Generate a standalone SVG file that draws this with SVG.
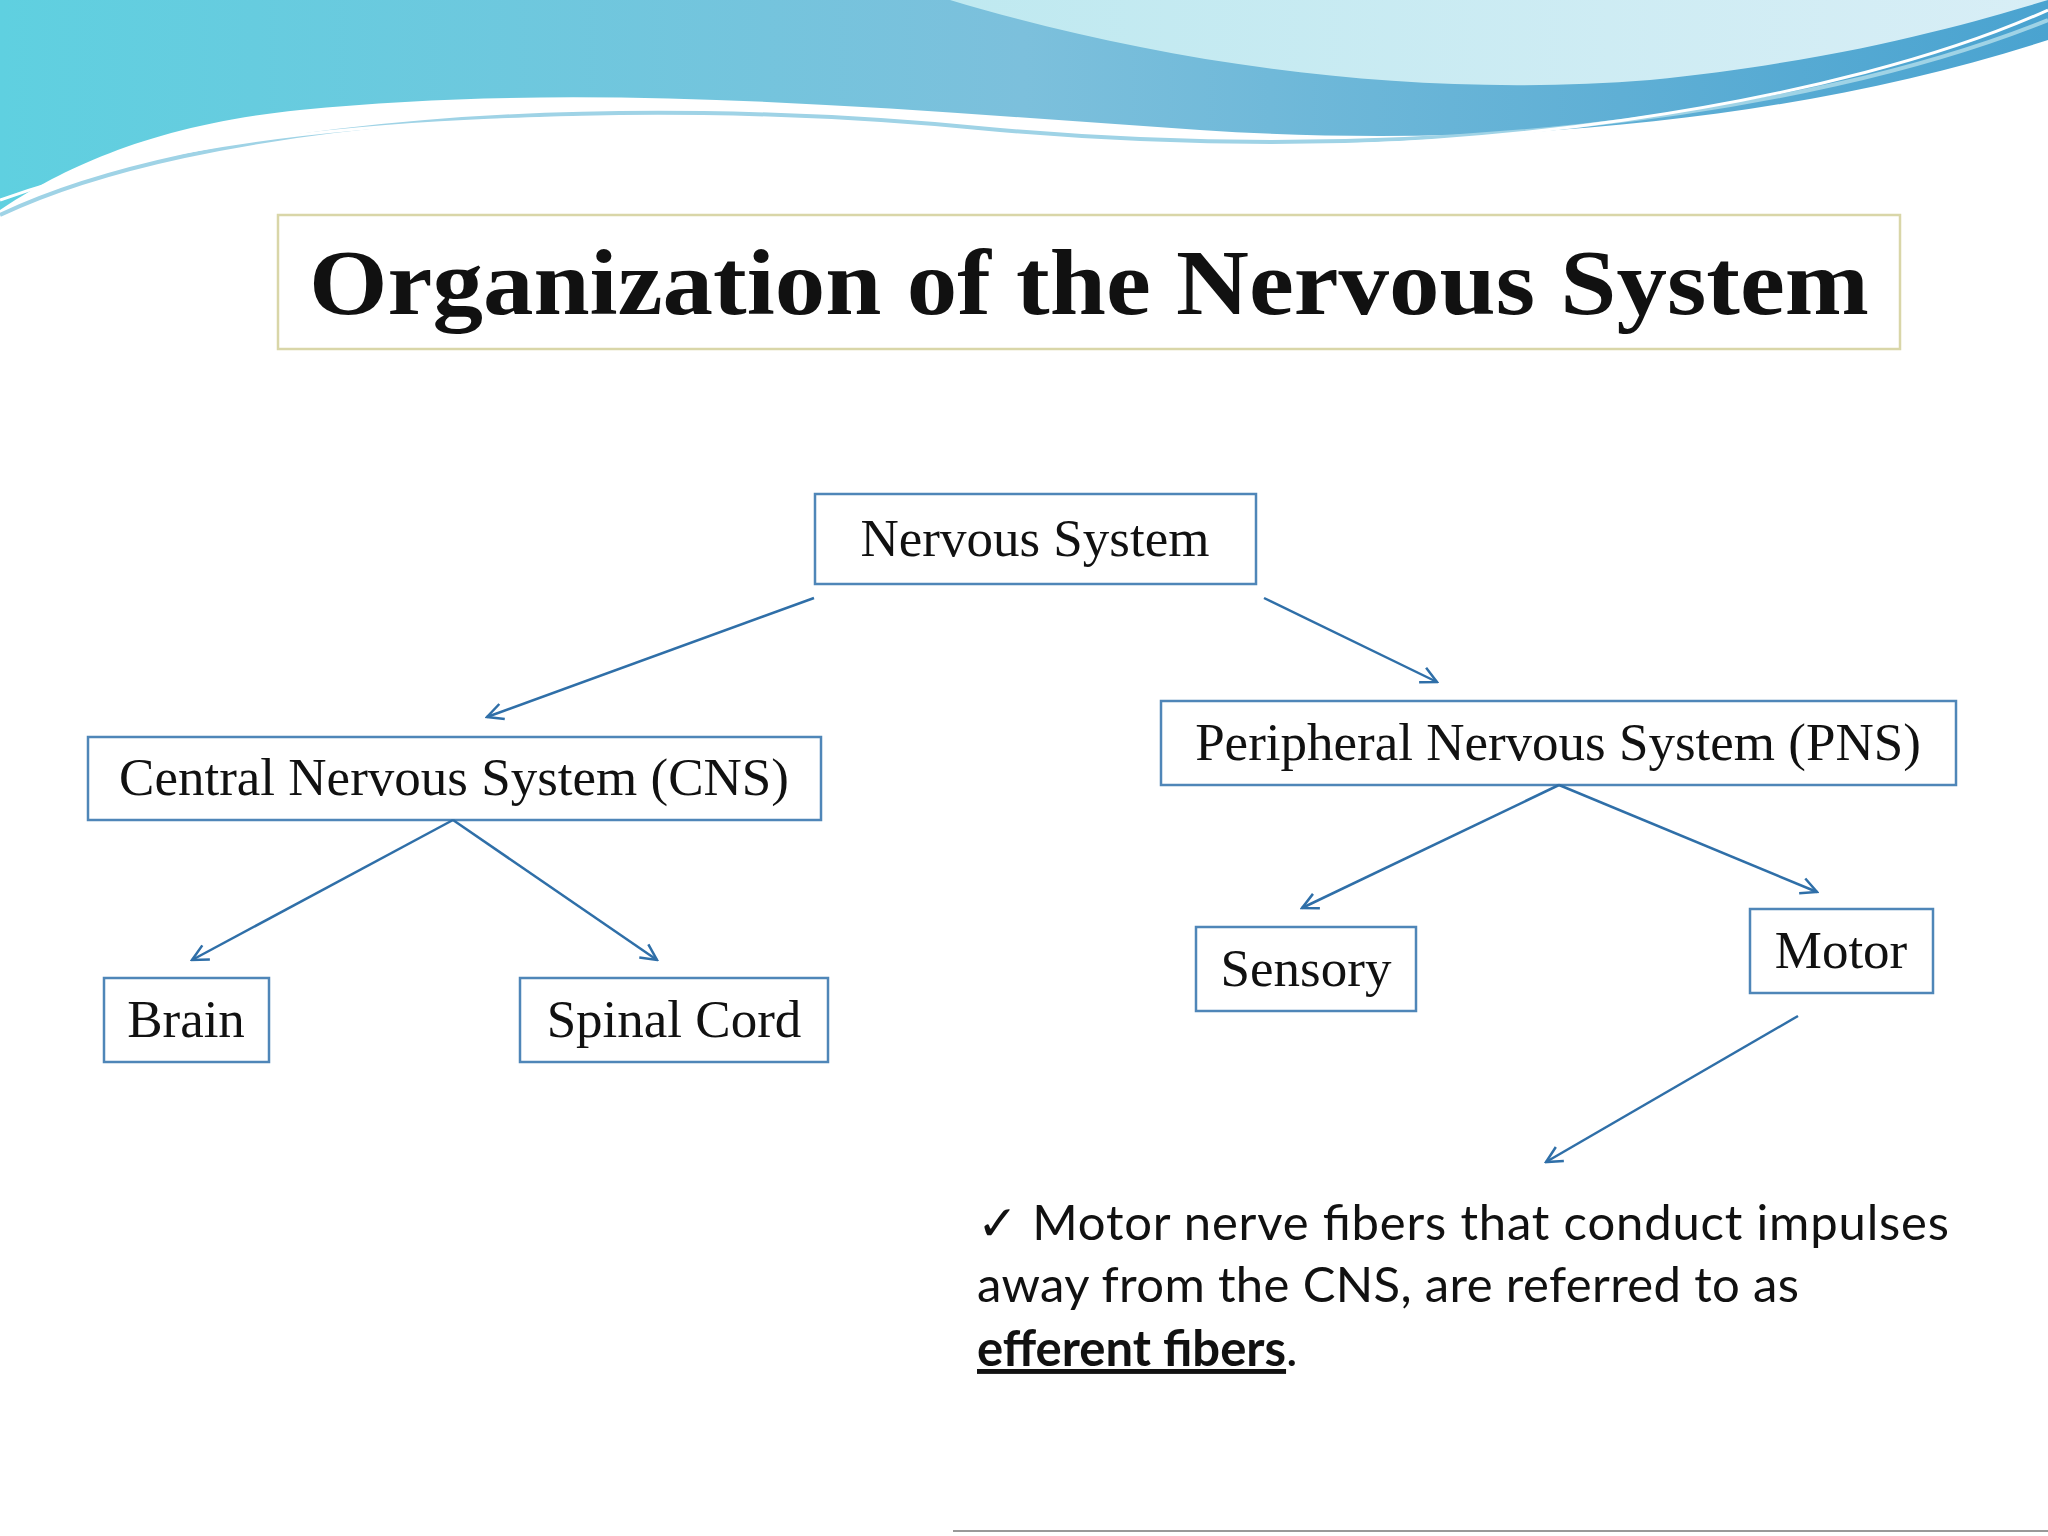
<svg xmlns="http://www.w3.org/2000/svg" width="2048" height="1536" viewBox="0 0 2048 1536">
<defs>
<linearGradient id="wv" x1="0" y1="0" x2="1" y2="0">
<stop offset="0" stop-color="#5fd0e0"/><stop offset="0.5" stop-color="#7cc0dc"/><stop offset="1" stop-color="#4aa3d0"/>
</linearGradient>
<linearGradient id="wv2" x1="0" y1="0" x2="1" y2="0">
<stop offset="0" stop-color="#bfe9f0"/><stop offset="1" stop-color="#d8eef6"/>
</linearGradient>
<marker id="ah" viewBox="0 0 20 20" refX="18" refY="10" markerWidth="20" markerHeight="20" markerUnits="userSpaceOnUse" orient="auto">
<path d="M2,2 L18,10 L2,18" fill="none" stroke="#2f6fa8" stroke-width="2.5"/>
</marker>
<style>
.box{fill:#fff;stroke:#4f86b8;stroke-width:2.5}
.lbl{font-family:"Liberation Serif",serif;font-size:53px;fill:#111;text-anchor:middle}
.con{stroke:#2f6fa8;stroke-width:2.5;fill:none;marker-end:url(#ah)}
.note{font-family:Lato,"Liberation Sans",sans-serif;font-size:49px;fill:#111}
</style>
</defs>
<rect width="2048" height="1536" fill="#fff"/>
<g id="waves">
<path d="M0,0 H2048 V40 C1800,120 1500,150 1200,130 C900,110 600,80 300,110 C150,125 60,170 0,210 Z" fill="url(#wv)"/>
<path d="M950,0 C1150,60 1400,100 1650,80 C1850,60 1980,20 2048,0 Z" fill="url(#wv2)"/>
<path d="M0,215 C200,120 600,90 1000,130 C1400,165 1800,120 2048,20" fill="none" stroke="#9fd3e6" stroke-width="4"/>
<path d="M0,200 C250,110 650,100 1050,140 C1450,170 1850,100 2048,10" fill="none" stroke="#ffffff" stroke-width="3"/>
</g>
<g id="title">
<rect x="278" y="215" width="1622" height="134" fill="#fff" stroke="#d9d6a8" stroke-width="2.5"/>
<text x="1089" y="314" font-family="Liberation Serif,serif" font-weight="bold" font-size="94" text-anchor="middle" fill="#111" textLength="1560" lengthAdjust="spacingAndGlyphs">Organization of the Nervous System</text>
</g>
<g id="n-ns"><rect class="box" x="815" y="494" width="441" height="90"/><text class="lbl" x="1035" y="556">Nervous System</text></g>
<g id="n-cns"><rect class="box" x="88" y="737" width="733" height="83"/><text class="lbl" x="454" y="795">Central Nervous System (CNS)</text></g>
<g id="n-pns"><rect class="box" x="1161" y="701" width="795" height="84"/><text class="lbl" x="1558" y="760">Peripheral Nervous System (PNS)</text></g>
<g id="n-brain"><rect class="box" x="104" y="978" width="165" height="84"/><text class="lbl" x="186" y="1037">Brain</text></g>
<g id="n-spinal"><rect class="box" x="520" y="978" width="308" height="84"/><text class="lbl" x="674" y="1037">Spinal Cord</text></g>
<g id="n-sensory"><rect class="box" x="1196" y="927" width="220" height="84"/><text class="lbl" x="1306" y="986">Sensory</text></g>
<g id="n-motor"><rect class="box" x="1750" y="909" width="183" height="84"/><text class="lbl" x="1841" y="968">Motor</text></g>
<g id="connectors">
<line class="con" x1="814" y1="598" x2="487" y2="717"/>
<line class="con" x1="1264" y1="598" x2="1437" y2="682"/>
<line class="con" x1="453" y1="820" x2="192" y2="960"/>
<line class="con" x1="453" y1="820" x2="657" y2="960"/>
<line class="con" x1="1559" y1="785" x2="1302" y2="908"/>
<line class="con" x1="1559" y1="785" x2="1817" y2="892"/>
<line class="con" x1="1798" y1="1016" x2="1546" y2="1162"/>
</g>
<g id="note">
<text class="note" x="977" y="1240" textLength="972">✓ Motor nerve fibers that conduct impulses</text>
<text class="note" x="977" y="1302" textLength="822">away from the CNS, are referred to as</text>
<text class="note" x="977" y="1366"><tspan font-weight="bold" text-decoration="underline">efferent fibers</tspan>.</text>
</g>
<line x1="953" y1="1531" x2="2048" y2="1531" stroke="#999" stroke-width="2"/>
</svg>
